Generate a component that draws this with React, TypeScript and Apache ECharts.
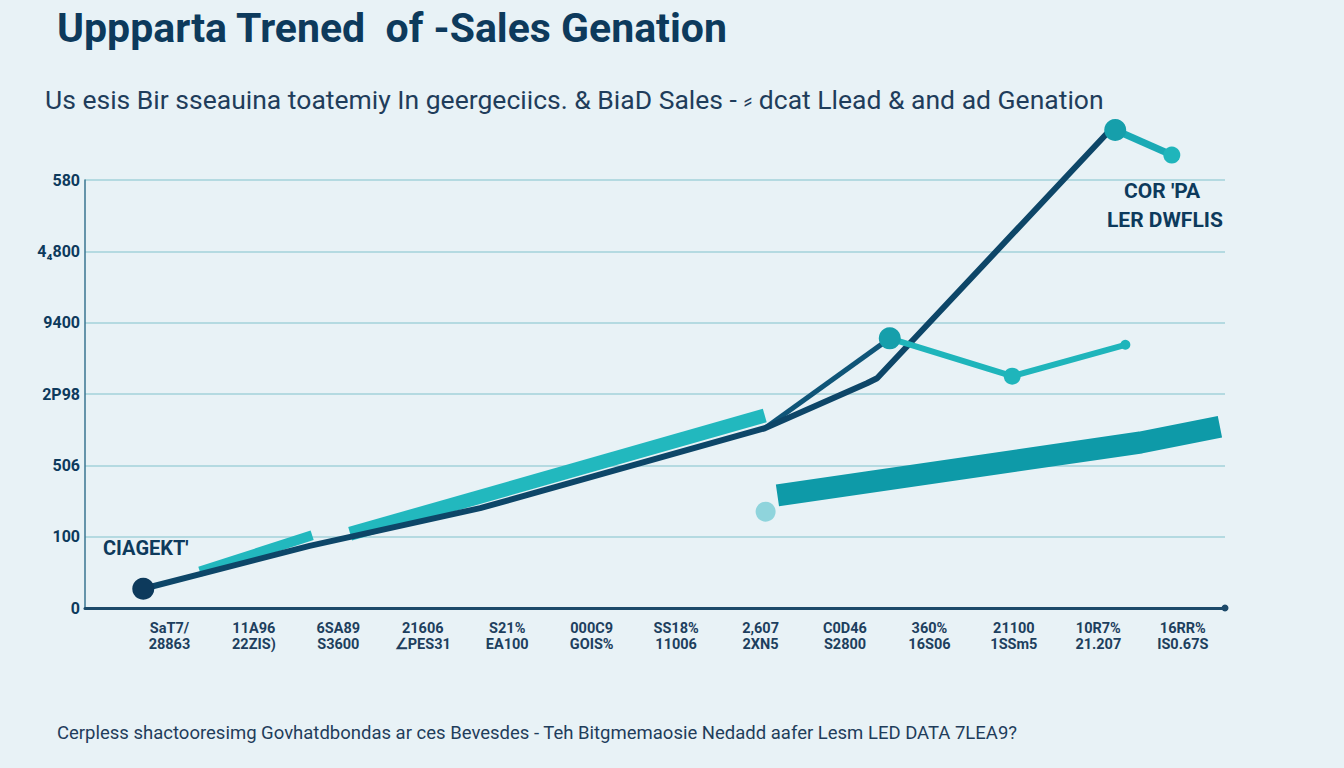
import React, { useEffect, useRef } from "react";
import * as echarts from "echarts";

const titleText = "Uppparta Trened  of -Sales Genation";
const subtitleText =
  "Us esis Bir sseauina toatemiy In geergeciics. & BiaD Sales - ⸗ dcat Llead & and ad Genation";
const footerText =
  "Cerpless shactooresimg Govhatdbondas ar ces Bevesdes - Teh Bitgmemaosie Nedadd aafer Lesm LED DATA 7LEA9?";

const yTickLabels = ["0", "100", "506", "2P98", "9400", "4\u2084800", "580"];
const xTickTop = ["SaT7/", "11A96", "6SA89", "21606", "S21%", "000C9", "SS18%", "2,607", "C0D46", "360%", "21100", "10R7%", "16RR%"];
const xTickBottom = ["28863", "22ZIS)", "S3600", "\u2220PES31", "EA100", "GOIS%", "11006", "2XN5", "S2800", "16S06", "1SSm5", "21.207", "IS0.67S"];

// [x position (category index), value]
const darkMain = [[-0.31, 27], [1.66, 87], [3.68, 140], [7.05, 252], [8.26, 315], [8.38, 322], [11.14, 670]];
const darkBranch = [[7.05, 252], [8.53, 378]];
const tealTop = [[11.2, 670], [11.87, 635]];
const tealMid = [[8.53, 378], [9.98, 325], [11.32, 369]];
const tealBandA = [[0.36, 51], [1.69, 102]];
const tealBandB = [[2.14, 104], [7.05, 270]];
const lowerBand = [[7.2, 158], [11.5, 232], [12.44, 254]];

const navyMarker = [[-0.31, 27]];
const tealBigMarkers = [[11.2, 670], [8.53, 378]];
const tealSmallMarkers = [[11.87, 635], [9.98, 325]];
const tealTinyMarkers = [[11.32, 369]];
const lightMarker = [[7.06, 135]];

const NAVY = "#0d3a5c";

export default function App() {
  const ref = useRef<HTMLDivElement>(null);
  useEffect(() => {
    if (!ref.current) return;
    const chart = echarts.init(ref.current, null, { renderer: "svg" });
    const lineS = (name: string, data: number[][], color: string, width: number, z = 2) => ({
      name,
      type: "line",
      data,
      showSymbol: false,
      clip: false,
      z,
      lineStyle: { color, width, cap: "butt", join: "round" },
    });
    const scat = (name: string, data: number[][], color: string, size: number, z = 10) => ({
      name,
      type: "scatter",
      data,
      symbolSize: size,
      clip: false,
      z,
      itemStyle: { color, opacity: 1 },
    });
    chart.setOption({
      animation: false,
      backgroundColor: "#e8f2f6",
      title: [
        {
          text: titleText,
          left: 57,
          top: 7,
          padding: 0,
          textStyle: { fontFamily: "Roboto", fontWeight: "bold", fontSize: 41, color: NAVY },
        },
        {
          text: subtitleText,
          left: 45,
          top: 86,
          padding: 0,
          textStyle: { fontFamily: "Roboto", fontWeight: "normal", fontSize: 26.5, color: "#1f3d5b" },
        },
        {
          text: footerText,
          left: 57,
          top: 723,
          padding: 0,
          textStyle: { fontFamily: "Roboto", fontWeight: "normal", fontSize: 18.5, color: "#1f3d5b" },
        },
      ],
      grid: { left: 85, right: 119, top: 180, bottom: 160 },
      xAxis: {
        type: "value",
        min: -1,
        max: 12.5,
        interval: 1,
        axisLine: {
          show: true,
          onZero: false,
          symbol: ["none", "circle"],
          symbolSize: [7, 7],
          lineStyle: { color: "#1d4a6a", width: 3 },
        },
        axisTick: { show: false },
        splitLine: { show: false },
        axisLabel: {
          margin: 12,
          color: "#1d3f5e",
          fontFamily: "Roboto",
          fontWeight: "bold",
          fontSize: 14.5,
          lineHeight: 16,
          showMaxLabel: false,
          formatter: (v: number) => {
            const i = Math.round(v);
            if (Math.abs(v - i) > 1e-6 || i < 0 || i >= xTickTop.length) return "";
            return xTickTop[i] + "\n" + xTickBottom[i];
          },
        },
      },
      yAxis: {
        type: "value",
        min: 0,
        max: 600,
        interval: 100,
        axisLine: { show: true, onZero: false, lineStyle: { color: "#3a7590", width: 1.5 } },
        axisTick: { show: false },
        splitLine: { show: true, lineStyle: { color: "#a3d2da", width: 1.5 } },
        axisLabel: {
          margin: 5,
          color: NAVY,
          fontFamily: "Roboto",
          fontWeight: "bold",
          fontSize: 16,
          formatter: (v: number) => yTickLabels[Math.round(v / 100)] ?? "",
        },
      },
      graphic: [
        {
          type: "text",
          left: 103,
          top: 538,
          style: { text: "CIAGEKT'", fill: NAVY, font: "bold 20px Roboto" },
        },
        {
          type: "text",
          left: 1124,
          top: 180,
          style: { text: "COR 'PA", fill: NAVY, font: "bold 21px Roboto" },
        },
        {
          type: "text",
          left: 1107,
          top: 209,
          style: { text: "LER DWFLIS", fill: NAVY, font: "bold 21px Roboto" },
        },
      ],
      series: [
        lineS("lowerBand", lowerBand, "#0e9aa8", 22, 2),
        lineS("tealBandA", tealBandA, "#22b8be", 10, 3),
        lineS("tealBandB", tealBandB, "#22b8be", 14, 3),
        lineS("darkBranch", darkBranch, "#0f5578", 5, 4),
        lineS("darkMain", darkMain, "#0d4668", 6, 5),
        lineS("tealMid", tealMid, "#1fb5bb", 6, 6),
        lineS("tealTop", tealTop, "#1aaab5", 7, 6),
        scat("navyMarker", navyMarker, NAVY, 22),
        scat("tealBig", tealBigMarkers, "#169fab", 22),
        scat("tealSmall", tealSmallMarkers, "#1fb5bb", 17),
        scat("tealTiny", tealTinyMarkers, "#1fb5bb", 10),
        scat("light", lightMarker, "#8fd4dc", 20),
      ],
    });
    return () => chart.dispose();
  }, []);
  return (
    <div
      ref={ref}
      style={{ position: "fixed", left: 0, top: 0, width: 1344, height: 768 }}
    />
  );
}
